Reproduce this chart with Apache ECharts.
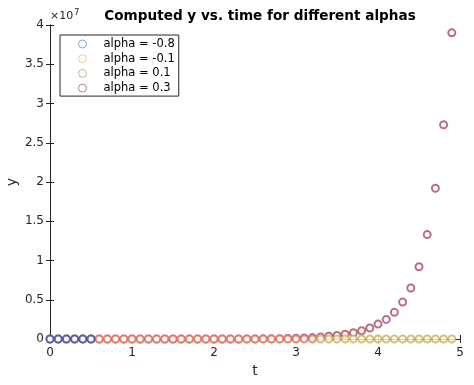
<!DOCTYPE html>
<html><head><meta charset="utf-8">
<script src="https://cdn.jsdelivr.net/npm/echarts@6/dist/echarts.min.js"></script>
<style>html,body{margin:0;padding:0;background:#fff}#c{width:474px;height:385px}</style>
</head><body><div id="c"></div>
<script>
// data
var seriesNames = ['alpha = -0.8', 'alpha = -0.1', 'alpha = 0.1', 'alpha = 0.3'];
var tNeg08 = [0, 0.1, 0.2, 0.3, 0.4, 0.5];
var yNeg08 = [0, 0, 0, 0, 0, 0];
var tNeg01 = [0.6, 0.7, 0.8, 0.9, 1.0, 1.1, 1.2, 1.3, 1.4, 1.5, 1.6, 1.7, 1.8, 1.9, 2.0, 2.1, 2.2, 2.3, 2.4, 2.5, 2.6, 2.7, 2.8, 2.9, 3.0, 3.1, 3.2];
var yNeg01 = [0, 0, 0, 0, 0, 0, 0, 0, 0, 0, 0, 0, 0, 0, 0, 0, 0, 0, 0, 0, 0, 0, 0, 0, 0, 0, 0];
var tPos01 = [3.3, 3.4, 3.5, 3.6, 3.7, 3.8, 3.9, 4.0, 4.1, 4.2, 4.3, 4.4, 4.5, 4.6, 4.7, 4.8, 4.9];
var yPos01 = [0, 0, 0, 0, 0, 0, 0, 0, 0, 0, 0, 0, 0, 0, 0, 0, 0];
var tPos03 = [0, 0.1, 0.2, 0.3, 0.4, 0.5, 0.6, 0.7, 0.8, 0.9, 1.0, 1.1, 1.2, 1.3, 1.4, 1.5, 1.6, 1.7, 1.8, 1.9, 2.0, 2.1, 2.2, 2.3, 2.4, 2.5, 2.6, 2.7, 2.8, 2.9, 3.0, 3.1, 3.2, 3.3, 3.4, 3.5, 3.6, 3.7, 3.8, 3.9, 4.0, 4.1, 4.2, 4.3, 4.4, 4.5, 4.6, 4.7, 4.8, 4.9];
var yPos03 = [1, 1, 1, 2, 3, 4, 6, 9, 13, 19, 27, 40, 60, 90, 130, 200, 300, 450, 700, 1000, 1500, 2300, 3500, 5500, 8000, 12000, 18000, 27000, 40000, 60000, 90000, 130000, 180000, 250000, 350000, 450000, 600000, 800000, 1050000, 1400000, 1900000, 2500000, 3400000, 4700000, 6500000, 9200000, 13300000, 19200000, 27300000, 39000000];
var xTicks = [0, 1, 2, 3, 4, 5];
var yTickLabels = ['0', '0.5', '1', '1.5', '2', '2.5', '3', '3.5', '4'];

function zip(t, y) { return t.map(function (v, i) { return [v, y[i]]; }); }

var font = 'DejaVu Sans';
var axisCol = '#262626';
var markColors = ['#4550A0', '#E27A5E', '#CDB055', '#A84A68'];
var legendColors = ['#5A98D4', '#EBBE80', '#9CB278', '#AA5A78'];
var datasets = [zip(tNeg08, yNeg08), zip(tNeg01, yNeg01), zip(tPos01, yPos01), zip(tPos03, yPos03)];
var zs = [5, 3, 4, 2];

var chart = echarts.init(document.getElementById('c'), null, { renderer: 'canvas' });
var series = seriesNames.map(function (n, i) {
  return {
    name: n, type: 'scatter', data: datasets[i], symbol: 'emptyCircle', symbolSize: 7,
    itemStyle: { color: markColors[i], borderColor: markColors[i], borderWidth: 0.9 },
    z: zs[i], silent: true, animation: false
  };
});

var yAxisCommon = {
  type: 'value', min: 0, max: 4e7, interval: 5e6,
  splitLine: { show: false },
  axisTick: { inside: true, length: 4, lineStyle: { color: axisCol } },
  axisLine: { show: true, lineStyle: { color: axisCol } }
};
var xAxisCommon = {
  type: 'value', min: 0, max: 5, interval: 1,
  splitLine: { show: false },
  axisTick: { inside: true, length: 4, lineStyle: { color: axisCol } },
  axisLine: { show: true, lineStyle: { color: axisCol } }
};

chart.setOption({
  animation: false,
  title: {
    text: 'Computed y vs. time for different alphas', left: 255, textAlign: 'center', top: 4,
    textStyle: { fontFamily: font, fontWeight: 'bold', fontSize: 13.6, color: '#000' }
  },
  grid: { left: 50, right: 14, top: 25, bottom: 46, show: false, outerBoundsMode: 'none', containLabel: false },
  legend: {
    data: seriesNames.map(function (n, i) {
      return { name: n, icon: 'circle', itemStyle: { color: 'transparent', borderColor: legendColors[i], borderWidth: 1 } };
    }),
    orient: 'vertical', left: 60, top: 35,
    itemWidth: 8, itemHeight: 8, itemGap: 0.7,
    padding: [2, 4, 1, 18],
    borderColor: axisCol, borderWidth: 1, backgroundColor: '#fff',
    textStyle: { fontFamily: font, fontSize: 11.5, color: '#000', lineHeight: 14, padding: [0, 0, 0, 12] },
    selectedMode: false
  },
  xAxis: [
    Object.assign({}, xAxisCommon, {
      position: 'bottom', name: 't', nameLocation: 'middle', nameGap: 25, nameMoveOverlap: false,
      nameTextStyle: { fontFamily: font, fontSize: 14, color: axisCol },
      axisLabel: { margin: 8, fontFamily: font, fontSize: 12, color: axisCol, formatter: function (v) { return xTicks.indexOf(v) >= 0 ? String(v) : ''; } }
    }),
    Object.assign({}, xAxisCommon, { position: 'top', axisLabel: { show: false } })
  ],
  yAxis: [
    Object.assign({}, yAxisCommon, {
      position: 'left', name: 'y', nameLocation: 'middle', nameGap: 31, nameMoveOverlap: false,
      nameTextStyle: { fontFamily: font, fontSize: 14, color: axisCol },
      axisLabel: { margin: 6, fontFamily: font, fontSize: 12, color: axisCol, formatter: function (v) { return yTickLabels[Math.round(v / 5e6)]; } }
    }),
    Object.assign({}, yAxisCommon, { position: 'right', axisLabel: { show: false } })
  ],
  graphic: [{
    type: 'text', left: 50, top: 9,
    style: {
      text: '×10{s|7}', fontFamily: font, fontSize: 11, fill: axisCol,
      rich: { s: { fontSize: 8, verticalAlign: 'top', padding: [0, 0, 6, 1], fill: axisCol, fontFamily: font } }
    }
  }],
  series: series
});
</script>
</body></html>
